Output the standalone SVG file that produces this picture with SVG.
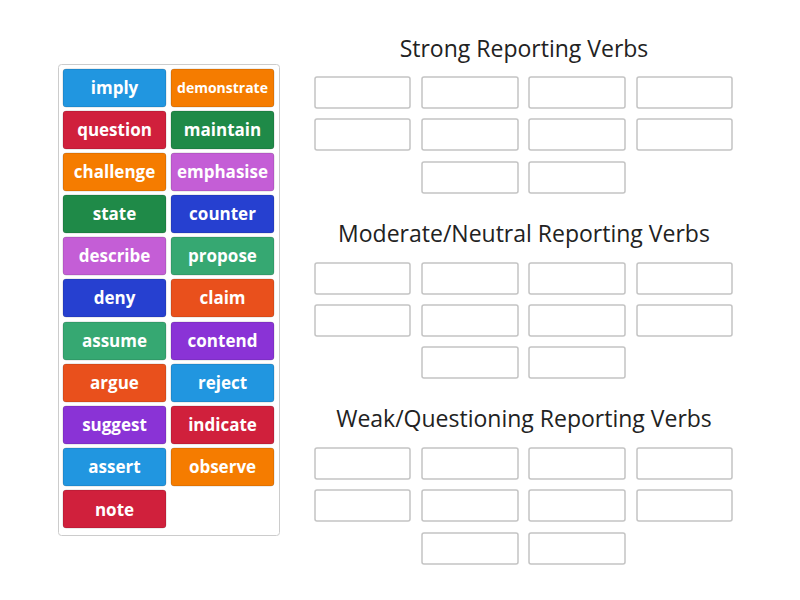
<svg xmlns="http://www.w3.org/2000/svg" width="800" height="600" viewBox="0 0 800 600">
<style>
.t rect{stroke:rgba(0,0,0,0.15);stroke-width:1}
.t text{font-family:"Open Sans",sans-serif;font-weight:bold;font-size:17px;fill:#fff;text-anchor:middle}
.b{fill:#fff;stroke:#c4c4c4;stroke-width:1.5}
.h{font-family:"Open Sans",sans-serif;font-size:23px;fill:#222;text-anchor:middle}
.blue{fill:#2196e0}.orange{fill:#f57c00}.red{fill:#d0203c}.dgreen{fill:#1f8a48}.pink{fill:#c45ed6}.navy{fill:#2640d0}.teal{fill:#36a872}.rorange{fill:#e9501c}.violet{fill:#8a33d6}
</style>
<rect x="58.500" y="64.500" width="221" height="471" rx="3" fill="#fff" stroke="#ccc"/>
<g class="t">
<g id="imply"><rect class="blue" x="63" y="69" width="103" height="38" rx="3"/><text x="114.500" y="94">imply</text></g>
<g id="demonstrate"><rect class="orange" x="171" y="69" width="103" height="38" rx="3"/><text x="222.500" y="93" style="font-size:14px">demonstrate</text></g>
<g id="question"><rect class="red" x="63" y="111" width="103" height="38" rx="3"/><text x="114.500" y="136">question</text></g>
<g id="maintain"><rect class="dgreen" x="171" y="111" width="103" height="38" rx="3"/><text x="222.500" y="136">maintain</text></g>
<g id="challenge"><rect class="orange" x="63" y="153" width="103" height="38" rx="3"/><text x="114.500" y="178">challenge</text></g>
<g id="emphasise"><rect class="pink" x="171" y="153" width="103" height="38" rx="3"/><text x="222.500" y="178">emphasise</text></g>
<g id="state"><rect class="dgreen" x="63" y="195" width="103" height="38" rx="3"/><text x="114.500" y="220">state</text></g>
<g id="counter"><rect class="navy" x="171" y="195" width="103" height="38" rx="3"/><text x="222.500" y="220">counter</text></g>
<g id="describe"><rect class="pink" x="63" y="237" width="103" height="38" rx="3"/><text x="114.500" y="262">describe</text></g>
<g id="propose"><rect class="teal" x="171" y="237" width="103" height="38" rx="3"/><text x="222.500" y="262">propose</text></g>
<g id="deny"><rect class="navy" x="63" y="279" width="103" height="38" rx="3"/><text x="114.500" y="304">deny</text></g>
<g id="claim"><rect class="rorange" x="171" y="279" width="103" height="38" rx="3"/><text x="222.500" y="304">claim</text></g>
<g id="assume"><rect class="teal" x="63" y="322" width="103" height="38" rx="3"/><text x="114.500" y="347">assume</text></g>
<g id="contend"><rect class="violet" x="171" y="322" width="103" height="38" rx="3"/><text x="222.500" y="347">contend</text></g>
<g id="argue"><rect class="rorange" x="63" y="364" width="103" height="38" rx="3"/><text x="114.500" y="389">argue</text></g>
<g id="reject"><rect class="blue" x="171" y="364" width="103" height="38" rx="3"/><text x="222.500" y="389">reject</text></g>
<g id="suggest"><rect class="violet" x="63" y="406" width="103" height="38" rx="3"/><text x="114.500" y="431">suggest</text></g>
<g id="indicate"><rect class="red" x="171" y="406" width="103" height="38" rx="3"/><text x="222.500" y="431">indicate</text></g>
<g id="assert"><rect class="blue" x="63" y="448" width="103" height="38" rx="3"/><text x="114.500" y="473">assert</text></g>
<g id="observe"><rect class="orange" x="171" y="448" width="103" height="38" rx="3"/><text x="222.500" y="473">observe</text></g>
<g id="note"><rect class="red" x="63" y="490" width="103" height="38" rx="3"/><text x="114.500" y="516">note</text></g>
</g>
<g id="strong">
<text class="h" x="524" y="57">Strong Reporting Verbs</text>
<rect class="b" x="315" y="77" width="95" height="31" rx="2"/><rect class="b" x="422" y="77" width="96" height="31" rx="2"/><rect class="b" x="529" y="77" width="96" height="31" rx="2"/><rect class="b" x="637" y="77" width="95" height="31" rx="2"/>
<rect class="b" x="315" y="119" width="95" height="31" rx="2"/><rect class="b" x="422" y="119" width="96" height="31" rx="2"/><rect class="b" x="529" y="119" width="96" height="31" rx="2"/><rect class="b" x="637" y="119" width="95" height="31" rx="2"/>
<rect class="b" x="422" y="162" width="96" height="31" rx="2"/><rect class="b" x="529" y="162" width="96" height="31" rx="2"/>
</g>
<g id="moderate">
<text class="h" x="524" y="242">Moderate/Neutral Reporting Verbs</text>
<rect class="b" x="315" y="263" width="95" height="31" rx="2"/><rect class="b" x="422" y="263" width="96" height="31" rx="2"/><rect class="b" x="529" y="263" width="96" height="31" rx="2"/><rect class="b" x="637" y="263" width="95" height="31" rx="2"/>
<rect class="b" x="315" y="305" width="95" height="31" rx="2"/><rect class="b" x="422" y="305" width="96" height="31" rx="2"/><rect class="b" x="529" y="305" width="96" height="31" rx="2"/><rect class="b" x="637" y="305" width="95" height="31" rx="2"/>
<rect class="b" x="422" y="347" width="96" height="31" rx="2"/><rect class="b" x="529" y="347" width="96" height="31" rx="2"/>
</g>
<g id="weak">
<text class="h" x="524" y="427">Weak/Questioning Reporting Verbs</text>
<rect class="b" x="315" y="448" width="95" height="31" rx="2"/><rect class="b" x="422" y="448" width="96" height="31" rx="2"/><rect class="b" x="529" y="448" width="96" height="31" rx="2"/><rect class="b" x="637" y="448" width="95" height="31" rx="2"/>
<rect class="b" x="315" y="490" width="95" height="31" rx="2"/><rect class="b" x="422" y="490" width="96" height="31" rx="2"/><rect class="b" x="529" y="490" width="96" height="31" rx="2"/><rect class="b" x="637" y="490" width="95" height="31" rx="2"/>
<rect class="b" x="422" y="533" width="96" height="31" rx="2"/><rect class="b" x="529" y="533" width="96" height="31" rx="2"/>
</g>
<g id="connectors"/>
</svg>
